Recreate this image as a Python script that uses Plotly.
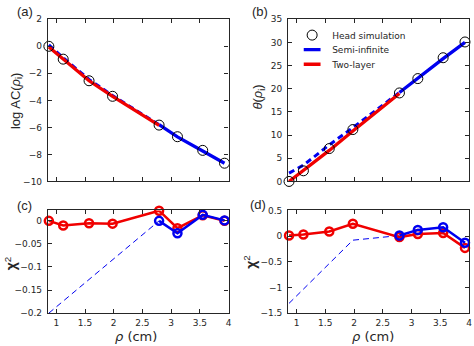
import plotly.graph_objects as go

# ---------------- data ----------------
rho = [0.87, 1.12, 1.57, 1.98, 2.79, 3.11, 3.55, 3.93]

# (a) log AC
logac_sim = [0.0, -0.95, -2.55, -3.7, -5.83, -6.69, -7.7, -8.65]
logac_semi = [0.1, -0.85, -2.45, -3.65, -5.8, -6.7, -7.75, -8.65]
logac_two = [-0.05, -0.95, -2.55, -3.7, -5.85]

# (b) theta
theta_sim = [0.0, 2.3, 7.1, 11.2, 19.1, 22.2, 26.7, 30.1]
theta_semi = [1.8, 3.5, 7.9, 11.6, 19.2, 22.3, 26.5, 30.0]
theta_two = [0.0, 2.4, 6.7, 10.9, 19.0]

# (c) chi^2 for log AC
chi_ac_two = [0.0, -0.01, -0.005, -0.006, 0.022, -0.016, 0.012, 0.0]
chi_ac_semi = [0.0, -0.027, 0.013, 0.001]          # on rho[4:]
chi_ac_semi_ext_x = [0.87, 2.79]
chi_ac_semi_ext = [-0.2, 0.0]

# (d) chi^2 for theta
chi_th_two = [0.01, 0.03, 0.09, 0.24, -0.02, 0.04, 0.06, -0.23]
chi_th_semi = [0.01, 0.12, 0.17, -0.13]            # on rho[4:]
chi_th_semi_ext_x = [0.87, 1.98, 2.79]
chi_th_semi_ext = [-1.31, -0.08, 0.01]

legend_names = ["Head simulation", "Semi-infinite", "Two-layer"]
x_ticks = [1, 1.5, 2, 2.5, 3, 3.5, 4]
x_range = [0.855, 4.0]

RED = "#f00000"
BLUE = "#0000f0"
AXC = "#262626"
W, H = 474, 346

fig = go.Figure()

def px_x(p):
    return p / W

def px_y(p):
    return 1 - p / H

# ---------- panel (a) ----------
fig.add_trace(go.Scatter(x=rho[:5], y=logac_semi[:5], mode="lines", xaxis="x", yaxis="y",
                         line=dict(color=BLUE, width=3, dash="6px,4px"), showlegend=False))
fig.add_trace(go.Scatter(x=rho[4:], y=logac_semi[4:], mode="lines", xaxis="x", yaxis="y",
                         line=dict(color=BLUE, width=3.3), showlegend=False))
fig.add_trace(go.Scatter(x=rho[:5], y=logac_two, mode="lines", xaxis="x", yaxis="y",
                         line=dict(color=RED, width=3.3), showlegend=False))
fig.add_trace(go.Scatter(x=rho, y=logac_sim, mode="markers", xaxis="x", yaxis="y", cliponaxis=False,
                         marker=dict(symbol="circle-open", size=10, color="black", line=dict(width=1)),
                         showlegend=False))

# ---------- panel (b) ----------
fig.add_trace(go.Scatter(x=rho[:5], y=theta_semi[:5], mode="lines", xaxis="x2", yaxis="y2",
                         line=dict(color=BLUE, width=3, dash="6px,4px"), showlegend=False))
fig.add_trace(go.Scatter(x=rho[4:], y=theta_semi[4:], mode="lines", xaxis="x2", yaxis="y2",
                         line=dict(color=BLUE, width=3.3), showlegend=False))
fig.add_trace(go.Scatter(x=rho[:5], y=theta_two, mode="lines", xaxis="x2", yaxis="y2",
                         line=dict(color=RED, width=3.3), showlegend=False))
fig.add_trace(go.Scatter(x=rho, y=theta_sim, mode="markers", xaxis="x2", yaxis="y2", cliponaxis=False,
                         marker=dict(symbol="circle-open", size=10, color="black", line=dict(width=1)),
                         showlegend=False))

# legend entries (short line keys like the original)
fig.add_trace(go.Scatter(x=[None], y=[None], mode="markers", xaxis="x2", yaxis="y2",
                         name=legend_names[0], legend="legend",
                         marker=dict(symbol="circle-open", size=10, color="black", line=dict(width=1))))
fig.add_trace(go.Scatter(x=[None], y=[None], mode="markers", xaxis="x2", yaxis="y2",
                         name=legend_names[1], legend="legend2",
                         marker=dict(symbol="line-ew", size=12, color=BLUE, line=dict(color=BLUE, width=3.3))))
fig.add_trace(go.Scatter(x=[None], y=[None], mode="markers", xaxis="x2", yaxis="y2",
                         name=legend_names[2], legend="legend3",
                         marker=dict(symbol="line-ew", size=12, color=RED, line=dict(color=RED, width=3.3))))

# ---------- panel (c) ----------
fig.add_trace(go.Scatter(x=chi_ac_semi_ext_x, y=chi_ac_semi_ext, mode="lines", xaxis="x3", yaxis="y3",
                         line=dict(color=BLUE, width=1, dash="6px,4px"), showlegend=False))
fig.add_trace(go.Scatter(x=rho, y=chi_ac_two, mode="lines+markers", xaxis="x3", yaxis="y3", cliponaxis=False,
                         line=dict(color=RED, width=2.5),
                         marker=dict(symbol="circle-open", size=8, color=RED, line=dict(width=2.5)),
                         showlegend=False))
fig.add_trace(go.Scatter(x=rho[4:], y=chi_ac_semi, mode="lines+markers", xaxis="x3", yaxis="y3", cliponaxis=False,
                         line=dict(color=BLUE, width=2.5),
                         marker=dict(symbol="circle-open", size=8, color=BLUE, line=dict(width=2.5)),
                         showlegend=False))

# ---------- panel (d) ----------
fig.add_trace(go.Scatter(x=chi_th_semi_ext_x, y=chi_th_semi_ext, mode="lines", xaxis="x4", yaxis="y4",
                         line=dict(color=BLUE, width=1, dash="6px,4px"), showlegend=False))
fig.add_trace(go.Scatter(x=rho, y=chi_th_two, mode="lines+markers", xaxis="x4", yaxis="y4", cliponaxis=False,
                         line=dict(color=RED, width=2.5),
                         marker=dict(symbol="circle-open", size=8, color=RED, line=dict(width=2.5)),
                         showlegend=False))
fig.add_trace(go.Scatter(x=rho[4:], y=chi_th_semi, mode="lines+markers", xaxis="x4", yaxis="y4", cliponaxis=False,
                         line=dict(color=BLUE, width=2.5),
                         marker=dict(symbol="circle-open", size=8, color=BLUE, line=dict(width=2.5)),
                         showlegend=False))

tickfont = dict(family="DejaVu Sans", size=9, color=AXC)

def axis(**kw):
    d = dict(showline=True, linecolor=AXC, linewidth=1.2, mirror="allticks", ticks="inside",
             ticklen=4, tickwidth=1, tickcolor=AXC, showgrid=False, zeroline=False,
             tickfont=tickfont, ticklabelstandoff=3)
    d.update(kw)
    return d

left_dom = [px_x(48.3), px_x(230)]
right_dom = [px_x(290), px_x(472)]
top_dom = [px_y(181.7), px_y(14.7)]
bot_dom = [px_y(317.3), px_y(211.5)]

def leg(ycenter):
    return dict(x=px_x(294), y=px_y(ycenter), xanchor="left", yanchor="middle",
                bgcolor="rgba(0,0,0,0)", borderwidth=0,
                font=dict(family="DejaVu Sans", size=9, color=AXC))

fig.update_layout(
    width=W, height=H, margin=dict(l=0, r=0, t=0, b=0),
    paper_bgcolor="white", plot_bgcolor="white",
    font=dict(family="DejaVu Sans", color=AXC),
    xaxis=axis(domain=left_dom, range=x_range, tickvals=x_ticks, showticklabels=False, anchor="y"),
    yaxis=axis(domain=top_dom, range=[-10, 2], dtick=2, anchor="x"),
    xaxis2=axis(domain=right_dom, range=x_range, tickvals=x_ticks, showticklabels=False, anchor="y2"),
    yaxis2=axis(domain=top_dom, range=[0, 35], dtick=5, anchor="x2"),
    xaxis3=axis(domain=left_dom, range=x_range, tickvals=x_ticks, anchor="y3", ticklabelstandoff=1),
    yaxis3=axis(domain=bot_dom, range=[-0.2, 0.0227], tickvals=[-0.2, -0.15, -0.1, -0.05, 0], anchor="x3"),
    xaxis4=axis(domain=right_dom, range=x_range, tickvals=x_ticks, anchor="y4", ticklabelstandoff=1),
    yaxis4=axis(domain=bot_dom, range=[-1.5, 0.5], dtick=0.5, anchor="x4"),
    legend=leg(31),
    legend2=leg(46),
    legend3=leg(61),
)

ann = []
def label(text, x, y, size=13, angle=0, family="Liberation Sans"):
    ann.append(dict(text=text, x=px_x(x), y=px_y(y), xref="paper", yref="paper",
                    showarrow=False, textangle=angle, xanchor="center", yanchor="middle",
                    borderpad=0, font=dict(family=family, size=size, color=AXC)))

label("(a)", 25, 7)
label("(b)", 262, 7)
label("(c)", 25, 206)
label("(d)", 260, 205)
label("log AC(<i>ρ</i><sub>i</sub>)", 16, 99, size=13, angle=-90)
label("<i>θ</i>(<i>ρ</i><sub>i</sub>)", 260, 95, size=13, angle=-90)
label("<b>χ</b><sup>2</sup>", 11, 266, size=14, angle=-90)
label("<b>χ</b><sup>2</sup>", 252, 264, size=14, angle=-90)
label("<i>ρ</i> (cm)", 137, 341, size=13, family="DejaVu Sans")
label("<i>ρ</i> (cm)", 375, 341, size=13, family="DejaVu Sans")
fig.update_layout(annotations=ann)

fig.write_html("out.html")
